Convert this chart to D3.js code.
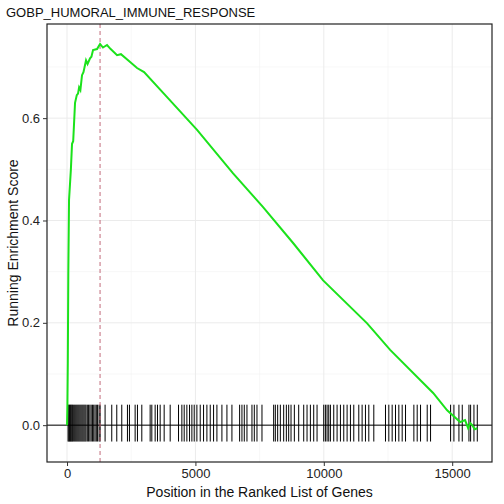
<!DOCTYPE html>
<html>
<head>
<meta charset="utf-8">
<script src="https://cdn.jsdelivr.net/npm/d3@7"></script>
<style>
  body {margin:0; background:#fff; font-family:Arial, "Liberation Sans", sans-serif;}
</style>
</head>
<body>
<div id="chart"></div>
<script>
var title = "GOBP_HUMORAL_IMMUNE_RESPONSE";
var curveX = [0, 15, 30, 50, 78, 150, 195, 240, 312, 380, 428, 470, 520, 584, 640, 740, 800, 896, 950, 1013, 1169, 1286, 1400, 1558, 1700, 1948, 2100, 2400, 2727, 3000, 3896, 5064, 6467, 7635, 8804, 9973, 11687, 12583, 14258, 14803, 15310, 15500, 15622, 15700, 15778, 15880, 15972];
var curveY = [0, 0.04, 0.12, 0.30, 0.44, 0.50, 0.55, 0.555, 0.63, 0.645, 0.648, 0.66, 0.655, 0.684, 0.69, 0.713, 0.706, 0.717, 0.72, 0.733, 0.735, 0.745, 0.738, 0.743, 0.735, 0.723, 0.725, 0.712, 0.698, 0.69, 0.641, 0.577, 0.492, 0.426, 0.356, 0.283, 0.199, 0.147, 0.063, 0.029, 0.006, 0.01, -0.006, 0.004, 0.0, -0.008, -0.006];
var hits = [40,70,100,130,160,190,220,260,300,340,380,420,460,500,540,580,620,660,700,740,790,840,890,940,990,1040,1090,1140,1190,1250,1290,
  1482,1742,1937,2132,2353,2431,2652,2743,2912,3237,3302,3432,3523,3627,3783,4017,4342,4472,4563,4667,4771,4862,4953,5057,5187,5317,5447,5577,5707,5837,6032,6227,6422,6721,6812,6903,7007,7202,7293,7397,7592,8047,8112,8203,8307,8437,8541,8632,8723,8853,9022,9217,9347,9477,9607,9737,9997,10062,10127,10192,10257,10387,10517,10647,10777,10907,11037,11167,11362,11492,11622,11752,11947,12402,12532,12662,12792,12922,13052,13182,13507,13637,13767,14027,14157,14937,15067,15262,15392,15652,15717,15847,15977];
var peakX = 1286;
var xTicks = [0, 5000, 10000, 15000];
var yTicks = [0, 0.2, 0.4, 0.6];

var W = 504, H = 504;
var pL = 47, pR = 492, pT = 24, pB = 462;

var svg = d3.select("#chart").append("svg").attr("width", W).attr("height", H);

var x = d3.scaleLinear().domain([-780, 16550]).range([pL, pR]);
var y = d3.scaleLinear().domain([-0.072, 0.784]).range([pB, pT]);

// grid
var g = svg.append("g");
var minorX = [2500, 7500, 12500], minorY = [0.1, 0.3, 0.5, 0.7];
g.selectAll(".mx").data(minorX).enter().append("line")
  .attr("x1", d => x(d)).attr("x2", d => x(d)).attr("y1", pT).attr("y2", pB)
  .attr("stroke", "#f2f2f2").attr("stroke-width", 0.6);
g.selectAll(".my").data(minorY).enter().append("line")
  .attr("y1", d => y(d)).attr("y2", d => y(d)).attr("x1", pL).attr("x2", pR)
  .attr("stroke", "#f2f2f2").attr("stroke-width", 0.6);
g.selectAll(".gx").data(xTicks).enter().append("line")
  .attr("x1", d => x(d)).attr("x2", d => x(d)).attr("y1", pT).attr("y2", pB)
  .attr("stroke", "#ebebeb").attr("stroke-width", 1);
g.selectAll(".gy").data(yTicks).enter().append("line")
  .attr("y1", d => y(d)).attr("y2", d => y(d)).attr("x1", pL).attr("x2", pR)
  .attr("stroke", "#ebebeb").attr("stroke-width", 1);

// hits
svg.selectAll(".hit").data(hits).enter().append("line")
  .attr("x1", d => x(d)).attr("x2", d => x(d))
  .attr("y1", y(0.04)).attr("y2", y(-0.032))
  .attr("stroke", "#000").attr("stroke-width", 1);

// zero line
svg.append("line").attr("x1", pL).attr("x2", pR).attr("y1", y(0)).attr("y2", y(0))
  .attr("stroke", "#000").attr("stroke-width", 1);

// peak line
svg.append("line").attr("x1", x(peakX)).attr("x2", x(peakX)).attr("y1", pT).attr("y2", pB)
  .attr("stroke", "#c26b7a").attr("stroke-width", 1).attr("stroke-dasharray", "4,3");

// curve
var pts = curveX.map((d, i) => [d, curveY[i]]);
svg.append("path").datum(pts)
  .attr("d", d3.line().x(d => x(d[0])).y(d => y(d[1])))
  .attr("fill", "none").attr("stroke", "#1be21b").attr("stroke-width", 2);

// panel border
svg.append("rect").attr("x", pL).attr("y", pT).attr("width", pR - pL).attr("height", pB - pT)
  .attr("fill", "none").attr("stroke", "#222").attr("stroke-width", 1.2);

// axes
var xa = svg.append("g").attr("transform", "translate(0," + pB + ")")
  .call(d3.axisBottom(x).tickValues(xTicks).tickSize(4).tickFormat(d3.format("d")));
var ya = svg.append("g").attr("transform", "translate(" + pL + ",0)")
  .call(d3.axisLeft(y).tickValues(yTicks).tickSize(4).tickFormat(d3.format(".1f")));
[xa, ya].forEach(a => {
  a.select(".domain").remove();
  a.selectAll("line").attr("stroke", "#333");
  a.selectAll("text").attr("fill", "#222").style("font-size", "13px").style("font-family", "Arial, 'Liberation Sans', sans-serif");
});

svg.append("text").attr("x", (pL + pR) / 2 - 10).attr("y", 497).attr("text-anchor", "middle")
  .style("font-size", "14px").attr("fill", "#111").text("Position in the Ranked List of Genes");
svg.append("text").attr("transform", "translate(18," + (pT + pB) / 2 + ") rotate(-90)")
  .attr("text-anchor", "middle").style("font-size", "14px").attr("fill", "#111").text("Running Enrichment Score");
svg.append("text").attr("x", 6).attr("y", 17).style("font-size", "13px").attr("fill", "#111").text(title);
</script>
</body>
</html>
